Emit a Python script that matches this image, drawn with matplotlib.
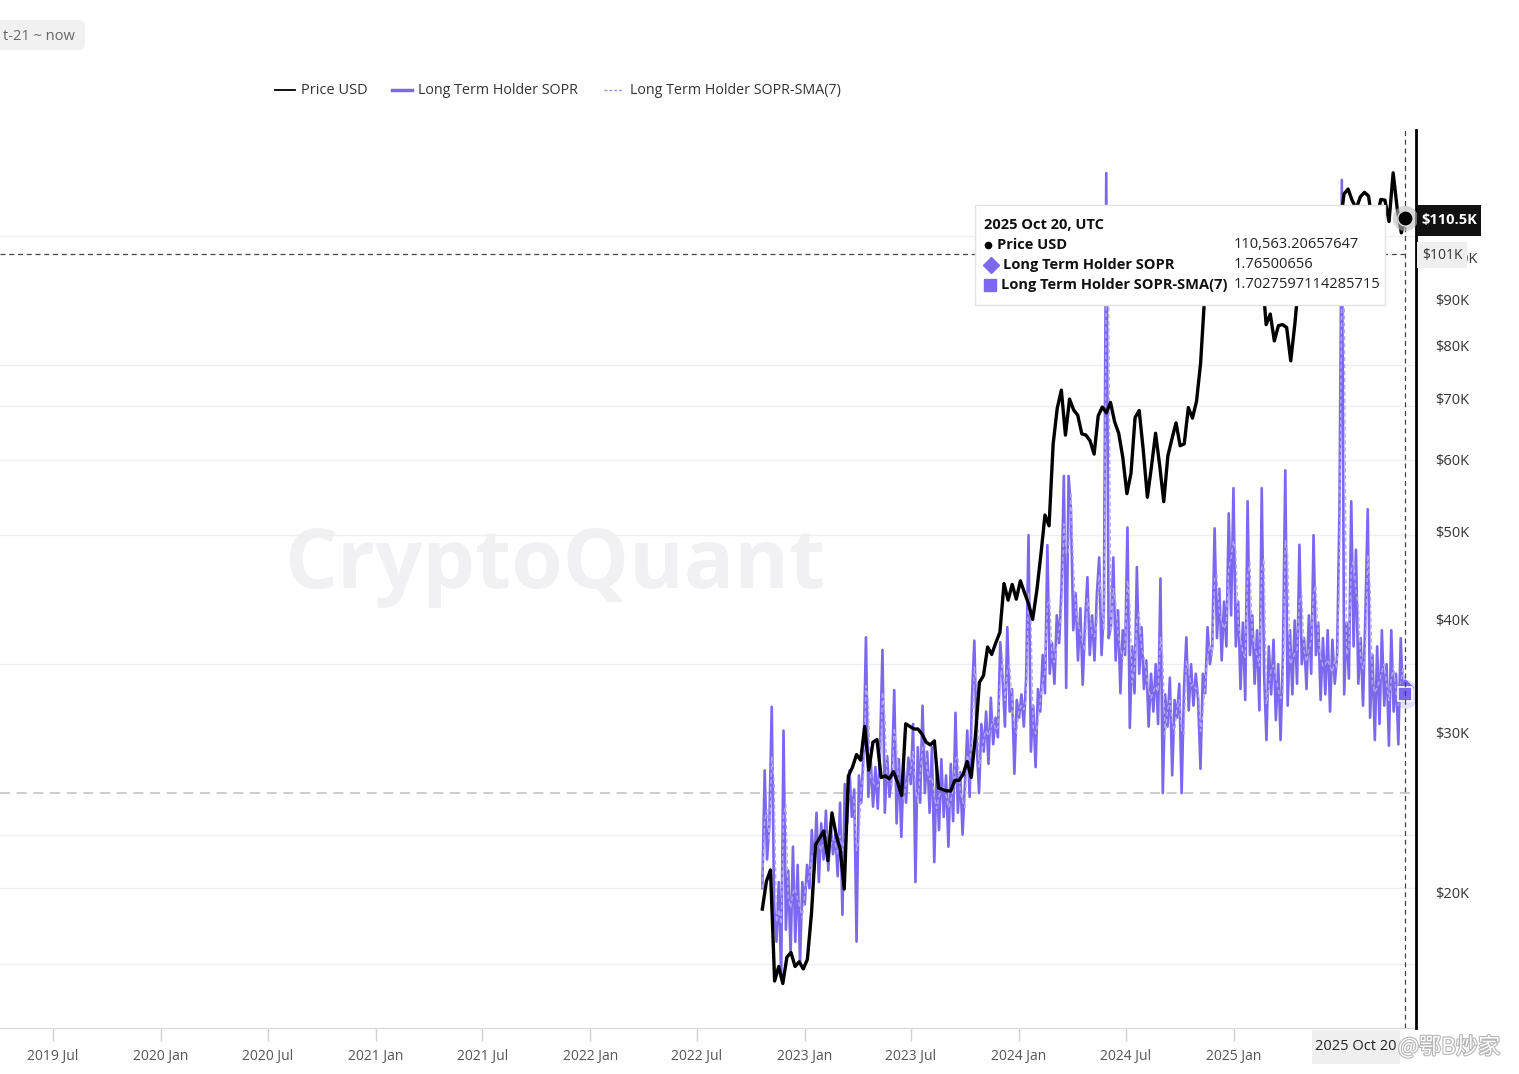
import numpy as np
import pandas as pd
import matplotlib
matplotlib.use('Agg')
import matplotlib.pyplot as plt
from matplotlib.lines import Line2D
from matplotlib.patches import Rectangle, FancyBboxPatch
from matplotlib.transforms import Affine2D
from matplotlib.ticker import FixedLocator, NullLocator, FuncFormatter
import matplotlib.patheffects as pe

plt.rcParams['font.family'] = ['Open Sans', 'DejaVu Sans']

# ---- data ----
# BTC price, weekly (Fridays) from 2022-10-21, last point = 2025-10-20
price_2022 = [19200, 20600, 21200, 16000, 16600, 15900, 17000, 17200, 16600, 16800, 16500]
price_2023 = [16900, 19000, 22600, 23000, 23400, 21700, 24500, 23200, 22350, 20200,
              26900, 27500, 28400, 28000, 30500, 27300, 29300, 29500, 26800, 26900,
              26700, 27200, 26500, 25600, 30700, 30500, 30300, 30300, 29900, 29300,
              29100, 29400, 26100, 26000, 25900, 25900, 26600, 26600, 27000, 27900,
              26800, 29700, 34100, 34700, 37300, 36600, 37700, 38700, 43800, 42000,
              43700, 42100]
price_2024 = [44100, 42800, 41600, 40000, 43000, 47100, 52100, 50700, 62400, 68300,
              71500, 63800, 69900, 68000, 67100, 64000, 63800, 62900, 60800, 67000,
              68500, 67500, 69300, 66000, 64100, 60300, 55000, 57900, 66700, 67900,
              61400, 54500, 58900, 64100, 59100, 53900, 60500, 63200, 65800, 62100,
              62400, 68400, 66600, 69500, 76600, 91000, 98900, 97400, 99900, 101400,
              97800, 94200]
price_2025 = [98100, 94600, 104500, 104800, 102400, 96500, 97500, 96200, 84400, 86700,
              81000, 84200, 84400, 83800, 77000, 84500, 94700, 96500, 102900, 103500,
              107300, 104000, 104300, 105900, 103300, 107100, 108000, 117500, 119000, 115600,
              113300, 116700, 118000, 116900, 108400, 110700, 115900, 115700, 109600, 124000,
              113200, 106500, 110563.2]

# Long Term Holder SOPR, every ~4 days from 2022-10-21 to 2025-10-20
sopr_2022 = [0.60, 1.13, 0.70, 0.85, 1.59, 0.55, 0.45, 0.62, 0.37, 1.40,
             0.48, 0.66, 0.42, 0.75, 0.45, 0.68, 0.40, 0.62]
sopr_2023 = [0.55, 0.68, 0.60, 0.82, 0.66, 0.90, 0.62, 0.85,
             0.70, 0.91, 0.66, 0.85, 0.72, 0.80, 0.64,
             0.95, 0.52, 1.05, 0.85, 1.13, 0.88, 1.02, 0.45,
             1.10, 0.95, 1.25, 2.31, 0.98, 1.20, 0.93,
             1.15, 0.92, 1.28, 2.16, 0.90, 1.22, 0.98, 1.10,
             1.74, 0.85, 1.20, 0.79, 1.15, 0.95, 1.21, 1.05,
             1.45, 0.62, 1.28, 0.95, 1.60, 1.00, 1.25,
             0.90, 1.28, 0.69, 1.15, 0.82, 1.20, 0.88, 1.10,
             0.75, 1.17, 0.86, 1.54, 0.90, 1.12, 0.80, 1.05,
             1.40, 0.98, 1.67, 2.27, 1.30, 1.00, 1.45,
             1.25, 1.55, 1.17, 1.67, 1.30, 1.50, 1.35, 2.25,
             1.86, 1.43, 2.44, 1.55, 1.75, 1.11, 1.65, 1.50]
sopr_2024 = [1.70, 1.43, 1.86, 4.00, 1.25, 1.60, 1.15,
             1.75, 1.55, 2.10, 1.71, 3.79, 1.90, 2.24, 1.80,
             2.60, 2.24, 3.00, 5.50, 1.76, 5.50, 4.60,
             2.40, 2.93, 2.04, 2.70, 1.79, 2.50, 3.19, 2.10,
             2.60, 2.04, 2.90, 3.55, 2.10, 2.70, 28.0, 2.30,
             2.45, 3.55, 2.04, 2.67, 1.71, 2.40, 2.10,
             4.17, 1.42, 2.20, 1.71, 3.37, 1.90, 2.44, 1.75,
             2.04, 1.43, 1.90, 1.55, 2.00, 1.45, 3.17, 1.00,
             1.70, 1.43, 1.86, 1.10, 1.65, 1.50, 1.80,
             1.00, 1.75, 2.31, 1.56, 2.00, 1.60, 1.90, 1.65,
             1.14, 1.90, 1.71, 2.44, 2.00, 2.20, 4.15,
             2.30, 3.00, 2.04, 2.80, 2.20, 4.50, 2.60, 5.15]
sopr_2025 = [2.20, 2.80, 1.75, 2.50, 1.65, 4.80, 2.10, 2.60,
             1.80, 2.40, 1.56, 5.15, 1.90, 1.33, 2.20,
             1.70, 2.28, 1.48, 2.00, 1.33, 2.10, 5.67,
             1.60, 2.40, 1.70, 2.53, 1.80, 3.80, 2.00, 2.30,
             1.75, 2.60, 1.90, 4.00, 2.10, 2.50, 1.65, 2.30,
             1.70, 2.40, 1.55, 2.28, 1.80, 2.10, 4.60,
             27.0, 1.70, 2.50, 1.85, 4.80, 2.20, 3.70, 1.80,
             2.30, 1.60, 2.60, 4.60, 1.50, 2.10, 1.33, 2.20,
             1.45, 2.40, 1.60, 2.00, 1.29, 2.40, 1.55,
             1.90, 1.30, 2.30, 1.64, 1.765]

sopr_grid = [0.4, 0.6, 0.8, 2, 4, 6, 8, 10, 20]
price_ticks = [20000, 30000, 40000, 50000, 60000, 70000, 80000, 90000, 100000]
x_ticks = pd.date_range('2019-07-01', '2025-01-01', freq='6MS')

price = price_2022 + price_2023 + price_2024 + price_2025
sopr = sopr_2022 + sopr_2023 + sopr_2024 + sopr_2025
price_dates = pd.date_range('2022-10-21', '2025-10-20', periods=len(price))
sopr_dates = pd.date_range('2022-10-21', '2025-10-20', periods=len(sopr))
sma = pd.Series(sopr).rolling(2, min_periods=1).mean().values

purple = '#7b68ee'
W, H = 1519, 1074
fig = plt.figure(figsize=(W / 100, H / 100), dpi=100)
px = Affine2D().scale(1, -1).translate(0, H)  # pixel coords, origin top-left

ax = fig.add_axes([0, 1 - 1028 / H, 1416 / W, (1028 - 130) / H])
ax2 = ax.twinx()

ax.set_yscale('log')
ax.set_ylim(0.283, 35.3)
ax.set_xlim(pd.Timestamp('2019-04-02'), pd.Timestamp('2025-11-07'))
ax.yaxis.set_major_locator(FixedLocator(sopr_grid))
ax.yaxis.set_minor_locator(NullLocator())
ax.tick_params(axis='y', which='both', left=False, right=False, labelleft=False)
ax.grid(axis='y', color='#efefef', lw=1)
ax.axhline(1, color='#c4c4c4', lw=1.2, dashes=(6, 4))
ax.set_xticks(x_ticks)
ax.set_xticklabels([d.strftime('%Y %b') for d in x_ticks])
ax.tick_params(axis='x', length=9, width=1, color='#d0d0d0', labelcolor='#555555',
               labelsize=10, pad=6)
for s in ['top', 'left', 'right']:
    ax.spines[s].set_visible(False)
ax.spines['bottom'].set_color('#d8d8d8')

ax.text(555, 566, 'CryptoQuant', transform=px, ha='center', va='center',
        fontsize=60, fontweight='bold', color='#f1f1f4', zorder=0.5)

ax.plot(sopr_dates, sopr, color=purple, lw=1.9, zorder=2)
ax.plot(sopr_dates, sma, color='#b4a9f6', lw=1, dashes=(3, 2), zorder=3)

cross = sopr_dates[-1]
ax.scatter([cross], [sopr[-1]], marker='D', s=60, color=purple, zorder=5)
ax.scatter([cross], [sma[-1]], s=420, color=purple, alpha=0.2, lw=0, zorder=5)
ax.scatter([cross], [sma[-1]], marker='s', s=110, color=purple, edgecolor='white',
           lw=1.2, zorder=6)

ax2.set_yscale('log')
ax2.set_ylim(14205, 138200)
ax2.plot(price_dates, price, color='black', lw=2.4, zorder=3)
ax2.yaxis.set_major_locator(FixedLocator(price_ticks))
ax2.yaxis.set_minor_locator(NullLocator())
ax2.yaxis.set_major_formatter(FuncFormatter(lambda v, p: '$%dK' % round(v / 1000)))
ax2.tick_params(axis='y', which='both', length=0, pad=14, labelsize=10.5, labelcolor='#333333')
for s in ['top', 'left', 'bottom']:
    ax2.spines[s].set_visible(False)
ax2.spines['right'].set_color('black')
ax2.spines['right'].set_linewidth(2)

# crosshair
ax2.axvline(cross, color='#444444', lw=0.9, dashes=(4, 3), zorder=4)
ax2.hlines(101000, pd.Timestamp('2019-04-02'), cross, color='#444444', lw=0.9,
           linestyles=(0, (4, 3)), zorder=4)
ax2.scatter([cross], [price[-1]], s=330, color='#bdbdbd', alpha=0.6, lw=0, zorder=5)
ax2.scatter([cross], [price[-1]], s=120, color='black', edgecolor='#dddddd', lw=1, zorder=6)

# legend
fig.add_artist(Line2D([275, 295], [90, 90], transform=px, color='black', lw=1.3))
fig.text(301, 90, 'Price USD', transform=px, va='center', fontsize=10.5, color='#333333')
fig.add_artist(Line2D([392, 412], [90, 90], transform=px, color=purple, lw=2.5))
fig.text(418, 90, 'Long Term Holder SOPR', transform=px, va='center', fontsize=10.3, color='#333333')
fig.add_artist(Line2D([604, 622], [90, 90], transform=px, color='#9b8cf2', lw=1, dashes=(2, 1.5)))
fig.text(630, 90, 'Long Term Holder SOPR-SMA(7)', transform=px, va='center', fontsize=10.3,
         color='#333333')

# range button (cut at the left edge)
fig.add_artist(FancyBboxPatch((-20, 20), 105, 30, transform=px, boxstyle='round,pad=0,rounding_size=6',
                              facecolor='#f1f1f1', edgecolor='none', zorder=1))
fig.text(75, 36, 't-21 ~ now', transform=px, ha='right', va='center', fontsize=10.5,
         color='#666666', zorder=2)

# tooltip
fig.add_artist(Rectangle((975, 205), 410, 100, transform=px, facecolor='white',
                         edgecolor='#e2e2e2', lw=1, zorder=10))
fig.text(984, 225, '2025 Oct 20, UTC', transform=px, va='center', fontsize=10.5,
         fontweight='bold', color='#111111', zorder=11)
fig.add_artist(Line2D([988], [245], transform=px, marker='o', ms=4.5, color='black', zorder=11))
fig.text(997, 245, 'Price USD', transform=px, va='center', fontsize=10.5, fontweight='bold',
         color='#111111', zorder=11)
fig.add_artist(Line2D([991], [265], transform=px, marker='D', ms=8, color=purple, zorder=11))
fig.text(1003, 265, 'Long Term Holder SOPR', transform=px, va='center', fontsize=10.5,
         fontweight='bold', color='#111111', zorder=11)
fig.add_artist(Line2D([990], [285], transform=px, marker='s', ms=8, color=purple, zorder=11))
fig.text(1001, 285, 'Long Term Holder SOPR-SMA(7)', transform=px, va='center', fontsize=10.5,
         fontweight='bold', color='#111111', zorder=11)
for yy, val in zip([245, 265, 285], ['110,563.20657647', '1.76500656', '1.7027597114285715']):
    fig.text(1234, yy, val, transform=px, va='center', fontsize=10.5, color='#222222', zorder=11)

# axis value boxes
fig.add_artist(Rectangle((1417, 205), 64, 31, transform=px, facecolor='#111111',
                         edgecolor='none', zorder=10))
fig.text(1449, 220, '$110.5K', transform=px, ha='center', va='center', fontsize=10.5,
         fontweight='bold', color='white', zorder=11)
fig.add_artist(Rectangle((1417, 242), 50, 26, transform=px, facecolor='#efefef',
                         edgecolor='none', zorder=10))
fig.text(1442, 255, '$101K', transform=px, ha='center', va='center', fontsize=10,
         color='#333333', zorder=11)
fig.add_artist(Rectangle((1312, 1030), 88, 34, transform=px, facecolor='#efefef',
                         edgecolor='none', zorder=10))
fig.text(1356, 1046, '2025 Oct 20', transform=px, ha='center', va='center', fontsize=10.5,
         color='#222222', zorder=11)

# weibo watermark
fig.text(1398, 1047, '@鄂B炒家', transform=px, va='center', fontsize=16, color='white',
         family=['Noto Sans CJK SC', 'DejaVu Sans'], zorder=12,
         path_effects=[pe.withStroke(linewidth=1.6, foreground='#b5b5b5')])

fig.savefig('out.png', dpi=100, facecolor='white')
